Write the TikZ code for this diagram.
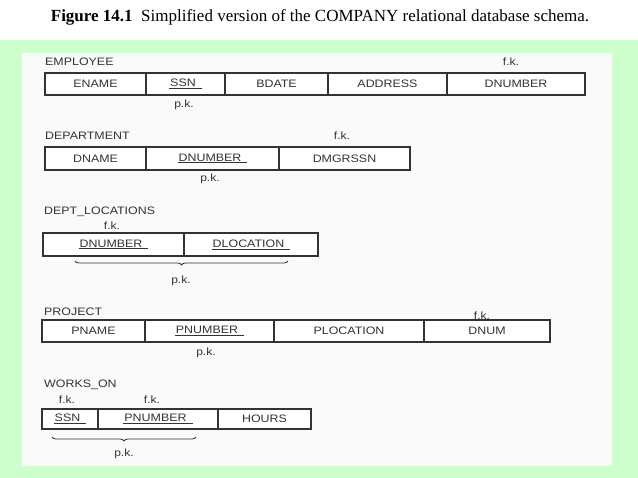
\documentclass[tikz,border=0pt]{standalone}
\usepackage{fontspec}
\setmainfont{Liberation Sans}[FakeStretch=1.15]
\newfontfamily\titlefont{Liberation Serif}
\usetikzlibrary{decorations.pathreplacing}
\definecolor{bggreen}{HTML}{CCFFCC}
\definecolor{panel}{HTML}{FAFAFA}
\definecolor{ink}{HTML}{333333}
\newcommand{\ul}[1]{\underline{\hspace{1pt}#1\hspace{6pt}}}
\tikzset{
  cell/.style={draw=ink, line width=1.1pt, fill=white, inner sep=0pt, font=\fontsize{10.8}{12}\selectfont, text=ink},
  lbl/.style={anchor=west, inner sep=0pt, font=\fontsize{10.8}{12}\selectfont, text=ink},
  note/.style={inner sep=0pt, font=\fontsize{10.5}{12}\selectfont, text=ink},
  brc/.style={draw=ink, line width=0.8pt, decoration={brace, mirror, amplitude=4pt}, decorate}
}
\newcommand{\cellat}[6]{% name, x1, x2, y1, y2, text
  \node[cell, minimum width={#3-#2}, minimum height={#5-#4}] (#1) at ({(#2+#3)/2},{(#4+#5)/2}) {#6};}
\begin{document}
\begin{tikzpicture}[x=1pt,y=-1pt]
\useasboundingbox (0,0) rectangle (638,478);
\fill[white] (0,0) rectangle (638,40);
\fill[bggreen] (0,40) rectangle (638,478);
\fill[panel] (22,53) rectangle (612,466);
\node[inner sep=0pt, font=\titlefont\fontsize{17}{19}\selectfont] (title) at (320,17) {\textbf{Figure 14.1}\ \ Simplified version of the COMPANY relational database schema.};
% EMPLOYEE
\node[lbl] (empl) at (45,62) {EMPLOYEE};
\cellat{e1}{45}{146}{73}{95}{ENAME}
\cellat{e2}{146}{225}{73}{95}{\ul{SSN}}
\cellat{e3}{225}{328}{73}{95}{BDATE}
\cellat{e4}{328}{447}{73}{95}{ADDRESS}
\cellat{e5}{447}{585}{73}{95}{DNUMBER}
\node[note] (epk) at (184,105) {p.k.};
\node[note] (efk) at (511,62) {f.k.};
% DEPARTMENT
\node[lbl] (depl) at (45,136) {DEPARTMENT};
\cellat{d1}{45}{146}{147}{170}{DNAME}
\cellat{d2}{146}{279}{147}{170}{\ul{DNUMBER}}
\cellat{d3}{279}{410}{147}{170}{DMGRSSN}
\node[note] (dpk) at (210,179) {p.k.};
\node[note] (dfk) at (342,136) {f.k.};
% DEPT_LOCATIONS
\node[lbl] (dll) at (44,212) {DEPT\_LOCATIONS};
\node[note] (dlfk) at (112,226) {f.k.};
\cellat{l1}{43}{184}{233}{256}{\ul{DNUMBER}}
\cellat{l2}{184}{318}{233}{256}{\ul{DLOCATION}}
\coordinate (lb1) at (75,261);
\coordinate (lb2) at (288,261);
\draw[brc] (lb1) -- (lb2);
\node[note] (lpk) at (181,281) {p.k.};
% PROJECT
\node[lbl] (prl) at (44,312) {PROJECT};
\node[note] (pfk) at (482,316) {f.k.};
\cellat{p1}{42}{145}{320}{342}{PNAME}
\cellat{p2}{145}{274}{320}{342}{\ul{PNUMBER}}
\cellat{p3}{274}{424}{320}{342}{PLOCATION}
\cellat{p4}{424}{550}{320}{342}{DNUM}
\node[note] (ppk) at (206,353) {p.k.};
% WORKS_ON
\node[lbl] (wol) at (44,385) {WORKS\_ON};
\node[note] (wfk1) at (67,400) {f.k.};
\node[note] (wfk2) at (152,400) {f.k.};
\cellat{w1}{42}{98}{409}{429}{\ul{SSN}}
\cellat{w2}{98}{218}{409}{429}{\ul{PNUMBER}}
\cellat{w3}{218}{311}{409}{429}{HOURS}
\coordinate (wb1) at (52,437);
\coordinate (wb2) at (196,437);
\draw[brc] (wb1) -- (wb2);
\node[note] (wpk) at (124,454) {p.k.};
\end{tikzpicture}
\end{document}
